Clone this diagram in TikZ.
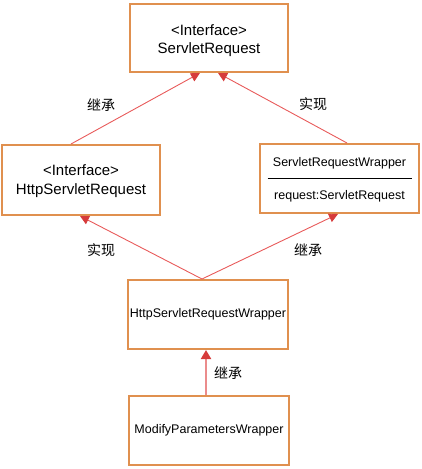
\documentclass[tikz,border=0pt]{standalone}
\usepackage{fontspec}
\setmainfont{Liberation Sans}
\newfontfamily\cjk{Noto Sans CJK SC}
\usetikzlibrary{arrows.meta}
\definecolor{boxc}{HTML}{E0904F}
\definecolor{linec}{HTML}{E85A5A}
\definecolor{tipc}{HTML}{D63B3B}
\definecolor{pinkc}{HTML}{EB8C8C}
\tikzset{
  box/.style={draw=boxc, line width=2pt, fill=white, inner sep=0pt, align=center},
  bigtxt/.style={font=\fontsize{15}{18.5}\selectfont},
  smalltxt/.style={font=\fontsize{12.5}{15}\selectfont},
  lbl/.style={font=\cjk\fontsize{14}{16}\selectfont},
  rel/.style={draw=linec, line width=0.9pt, -{Triangle[length=9pt,width=9pt,fill=tipc,color=tipc]}},
  relthick/.style={draw=pinkc, line width=2pt, -{Triangle[length=9pt,width=10pt,fill=tipc,color=tipc]}}
}
\begin{document}
\begin{tikzpicture}[x=1pt,y=-1pt]
\useasboundingbox (0,0) rectangle (421,469);
\node[box, minimum width=158pt, minimum height=68pt] (sr) at (209,38) {};
\node[bigtxt, align=center] (srtxt) at (209,40.5) {<Interface>\\ServletRequest};
\node[box, minimum width=158pt, minimum height=70pt] (hsr) at (81,180) {};
\node[bigtxt, align=center] (hsrtxt) at (81,181) {<Interface>\\HttpServletRequest};
\node[box, minimum width=159pt, minimum height=69pt] (srw) at (339.5,178.5) {};
\node[smalltxt] (srwname) at (339.5,163) {ServletRequestWrapper};
\node[smalltxt] (srwfield) at (339.5,196) {request:ServletRequest};
\draw[line width=1pt] ([xshift=-72pt]srw.center) coordinate (sepl) -- ([xshift=72pt]srw.center) coordinate (sepr);
\node[box, smalltxt, minimum width=160pt, minimum height=69pt] (hsrw) at (208,314.5) {HttpServletRequestWrapper};
\node[box, smalltxt, minimum width=160pt, minimum height=69pt] (mpw) at (209,430.5) {ModifyParametersWrapper};

\draw[rel] ([xshift=-10pt]hsr.north) -- ([xshift=-9pt]sr.south);
\draw[rel] ([xshift=7.5pt]srw.north) -- ([xshift=9pt]sr.south);
\draw[rel] ([xshift=-6pt]hsrw.north) -- ([xshift=-1pt]hsr.south);
\draw[rel] ([xshift=-6pt]hsrw.north) -- ([xshift=-1.5pt]srw.south);
\draw[relthick] ([xshift=-3pt]mpw.north) -- ([xshift=-2pt]hsrw.south);

\node[lbl] (l1) at (101,105) {继承};
\node[lbl] (l2) at (313,104) {实现};
\node[lbl] (l3) at (101,250) {实现};
\node[lbl] (l4) at (308,250) {继承};
\node[lbl] (l5) at (228,373) {继承};
\end{tikzpicture}
\end{document}
